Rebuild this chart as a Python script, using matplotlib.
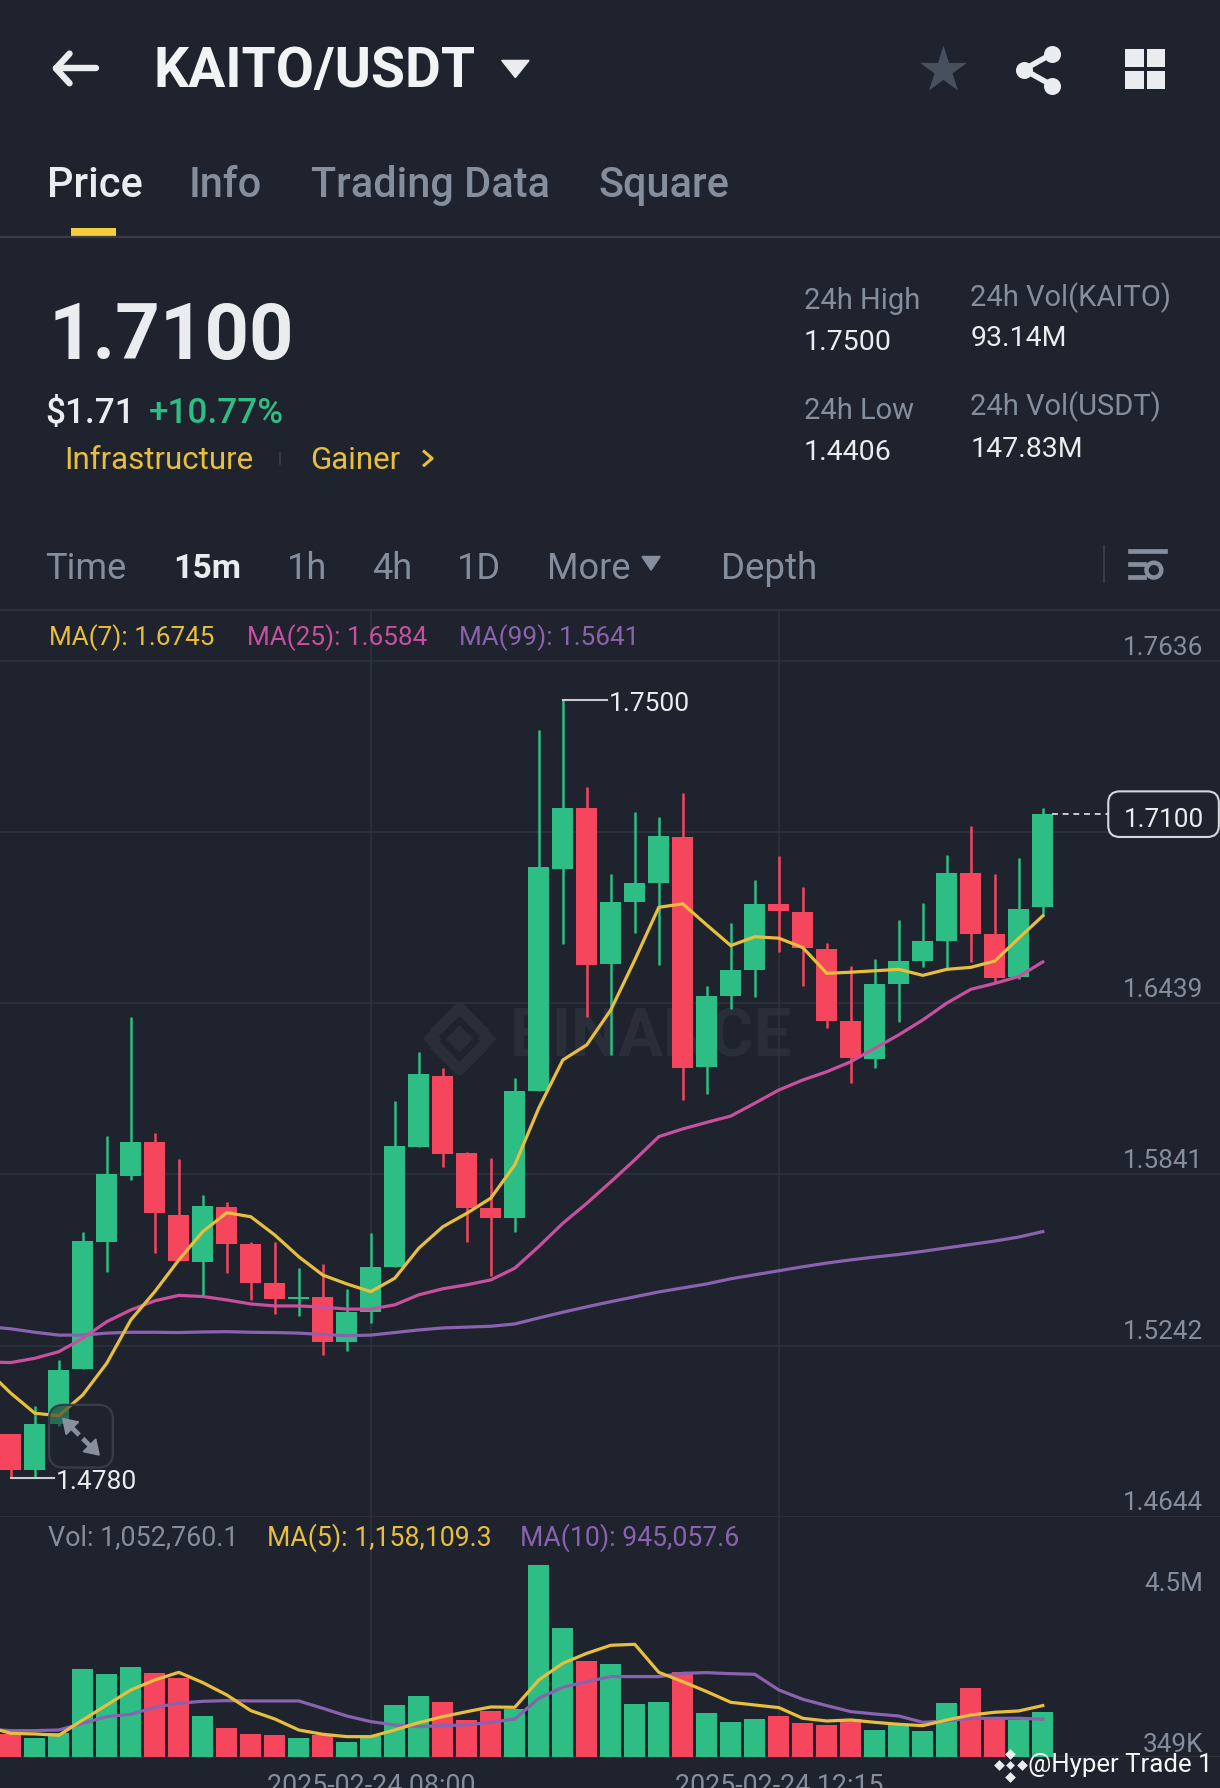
#!/usr/bin/env python3
"""KAITO/USDT 15m candle chart, phone app screenshot style."""

import numpy as np
import matplotlib
matplotlib.use("Agg")
import matplotlib.pyplot as plt
from matplotlib.patches import FancyBboxPatch, Rectangle, Circle

plt.rcParams['font.family'] = ['Roboto', 'DejaVu Sans']

# candles, oldest first
open_vals = [1.4934, 1.4808, 1.4969, 1.5160, 1.5606, 1.5835, 1.5954, 1.5700, 1.5534, 1.5726, 1.5599,
             1.5460, 1.5405, 1.5414, 1.5256, 1.5359, 1.5517, 1.5936, 1.6186, 1.5915, 1.5723, 1.5689,
             1.6132, 1.6910, 1.7121, 1.6576, 1.6793, 1.6861, 1.7021, 1.6218, 1.6466, 1.6556, 1.6787,
             1.6759, 1.6628, 1.6377, 1.6245, 1.6505, 1.6586, 1.6656, 1.6896, 1.6681, 1.6530, 1.6777]
close_vals = [1.4808, 1.4967, 1.5157, 1.5607, 1.5843, 1.5955, 1.5705, 1.5538, 1.5730, 1.5599, 1.5460,
              1.5405, 1.5414, 1.5256, 1.5359, 1.5517, 1.5941, 1.6192, 1.5912, 1.5723, 1.5690, 1.6132,
              1.6916, 1.7122, 1.6573, 1.6793, 1.6859, 1.7024, 1.6212, 1.6466, 1.6556, 1.6788, 1.6763,
              1.6632, 1.6379, 1.6247, 1.6505, 1.6586, 1.6656, 1.6896, 1.6681, 1.6527, 1.6769, 1.7100]
high_vals = [1.4934, 1.5031, 1.5192, 1.5640, 1.5975, 1.6393, 1.5985, 1.5894, 1.5770, 1.5746, 1.5606,
             1.5606, 1.5513, 1.5526, 1.5440, 1.5635, 1.6098, 1.6268, 1.6212, 1.5919, 1.5898, 1.6177,
             1.7395, 1.7500, 1.7195, 1.6892, 1.7109, 1.7090, 1.7174, 1.6498, 1.6719, 1.6871, 1.6955,
             1.6847, 1.6651, 1.6571, 1.6594, 1.6731, 1.6791, 1.6958, 1.7060, 1.6891, 1.6947, 1.7123]
low_vals = [1.4780, 1.4780, 1.4962, 1.5160, 1.5501, 1.5822, 1.5565, 1.5538, 1.5420, 1.5495, 1.5402,
            1.5353, 1.5347, 1.5209, 1.5224, 1.5323, 1.5517, 1.5936, 1.5868, 1.5604, 1.5487, 1.5640,
            1.6132, 1.6647, 1.6393, 1.6259, 1.6684, 1.6573, 1.6101, 1.6121, 1.6420, 1.6461, 1.6620,
            1.6498, 1.6352, 1.6160, 1.6214, 1.6373, 1.6567, 1.6562, 1.6583, 1.6515, 1.6523, 1.6745]

# moving averages start one candle left of the screen edge
ma7_vals = [1.5157, 1.5076, 1.5006, 1.4997, 1.5070, 1.5181, 1.5332, 1.5431, 1.5542, 1.5641, 1.5707, 1.5693,
            1.5629, 1.5553, 1.5489, 1.5458, 1.5431, 1.5478, 1.5583, 1.5658, 1.5705, 1.5758, 1.5874,
            1.6073, 1.6241, 1.6294, 1.6416, 1.6591, 1.6775, 1.6787, 1.6713, 1.6641, 1.6672, 1.6667,
            1.6634, 1.6544, 1.6548, 1.6553, 1.6558, 1.6537, 1.6558, 1.6565, 1.6587, 1.6667, 1.6745]
ma25_vals = [1.5185, 1.5183, 1.5198, 1.5221, 1.5268, 1.5326, 1.5367, 1.5399, 1.5418, 1.5414, 1.5402, 1.5388,
             1.5381, 1.5381, 1.5377, 1.5370, 1.5370, 1.5385, 1.5420, 1.5441, 1.5455, 1.5472, 1.5513,
             1.5589, 1.5670, 1.5740, 1.5815, 1.5892, 1.5973, 1.6000, 1.6023, 1.6045, 1.6090, 1.6136,
             1.6171, 1.6200, 1.6235, 1.6282, 1.6329, 1.6381, 1.6440, 1.6488, 1.6509, 1.6533, 1.6584]
ma99_vals = [1.5309, 1.5301, 1.5289, 1.5279, 1.5279, 1.5286, 1.5289, 1.5289, 1.5288, 1.5290, 1.5291, 1.5289,
             1.5288, 1.5286, 1.5281, 1.5277, 1.5279, 1.5288, 1.5297, 1.5304, 1.5307, 1.5310, 1.5318,
             1.5339, 1.5359, 1.5378, 1.5396, 1.5413, 1.5430, 1.5444, 1.5458, 1.5476, 1.5490, 1.5504,
             1.5518, 1.5531, 1.5542, 1.5552, 1.5561, 1.5572, 1.5584, 1.5596, 1.5608, 1.5622, 1.5641]

# volume, thousands
vol_vals = [709, 651, 724, 1736, 1652, 1767, 1668, 1590, 990, 803, 709, 698, 651, 698, 589, 683, 1162,
            1303, 1209, 933, 1074, 1100, 3357, 2366, 1856, 1803, 1178, 1214, 1689, 1037, 896, 943, 1001,
            891, 855, 948, 771, 855, 766, 1204, 1428, 985, 933, 1053]
vol_ma5_vals = [829, 724, 714, 693, 933, 1167, 1402, 1558, 1678, 1517, 1324, 1079, 948, 776, 709, 672, 672,
                776, 891, 985, 1063, 1136, 1131, 1558, 1819, 1975, 2101, 2116, 1678, 1532, 1376, 1209,
                1167, 1126, 959, 917, 933, 896, 865, 844, 933, 1011, 1053, 1074, 1158]
vol_ma10_vals = [787, 766, 766, 776, 881, 985, 1021, 1131, 1194, 1225, 1235, 1230, 1230, 1230, 1115, 995, 907,
                 855, 829, 844, 855, 896, 948, 1272, 1444, 1532, 1611, 1611, 1611, 1663, 1673, 1657,
                 1647, 1402, 1256, 1157, 1063, 1027, 995, 896, 917, 959, 959, 959, 945]

price_ticks = [1.7636, 1.7038, 1.6439, 1.5841, 1.5242, 1.4644]
price_tick_labels = ['1.7636', '', '1.6439', '1.5841', '1.5242', '1.4644']
date_idx = [15, 32]
date_labels = ['2025-02-24 08:00', '2025-02-24 12:15']

BG = '#1e232e'
GRID = '#2d323d'
GREY = '#848e9c'
WHITE = '#eaecef'
GREEN = '#2ebd85'
RED = '#f6465d'
YELLOW = '#e8bf3c'
MAGENTA = '#c9509f'
PURPLE = '#8a62b0'
FAINT = '#292e39'

WIDTH, HEIGHT = 1220, 1788
DISP_W, DISP_H = 1070, 1568  # ui layer is laid out in these units


def pane(top, bottom):
    """Full width axes between two pixel rows."""
    ax = fig.add_axes([0, 1 - bottom / HEIGHT, 1, (bottom - top) / HEIGHT], zorder=2)
    ax.set_facecolor('none')
    for s in ax.spines.values():
        s.set_visible(False)
    ax.tick_params(left=False, bottom=False, labelleft=False, labelbottom=False)
    # 24 px per candle, first candle centre at x = 10.8 px
    ax.set_xlim(-10.8 / 24, (WIDTH - 10.8) / 24)
    return ax


def layer(z):
    """Full figure axes in screen units, y down."""
    ax = fig.add_axes([0, 0, 1, 1], zorder=z)
    ax.set_xlim(0, DISP_W)
    ax.set_ylim(DISP_H, 0)
    ax.axis('off')
    ax.patch.set_alpha(0)
    return ax


def txt(x, y, s, size=20, color=GREY, weight='normal', ha='left', target=None):
    (target or ui).text(x, y + 4, s, fontsize=size, color=color, fontweight=weight, ha=ha, va='center')


fig = plt.figure(figsize=(WIDTH / 100, HEIGHT / 100), dpi=100, facecolor=BG)

idx = np.arange(len(open_vals))
ma_idx = np.arange(-1, len(open_vals))
opens = np.array(open_vals)
closes = np.array(close_vals)
colors = [GREEN if c >= o else RED for o, c in zip(opens, closes)]

# watermark goes under the candles
under = layer(1)
under.scatter([403, 379, 427], [911, 911, 911], marker='D', s=[190, 90, 90], color=FAINT, linewidths=0)
under.plot([384, 403, 422], [903, 884, 903], color=FAINT, lw=8)
under.plot([384, 403, 422], [919, 938, 919], color=FAINT, lw=8)
txt(447, 907, 'BINANCE', size=48, color=FAINT, weight='bold', target=under)

# price pane
ax = pane(611, 1517)
ax.set_ylim(1.4643, 1.7811)
for t in price_ticks:
    ax.axhline(t, color=GRID, lw=1.2, zorder=1)
for d in date_idx:
    ax.axvline(d, color=GRID, lw=1.2, zorder=1)

ax.vlines(idx, low_vals, high_vals, colors=colors, lw=1.8, zorder=3)
ax.bar(idx, np.abs(closes - opens), bottom=np.minimum(opens, closes), width=0.875, color=colors, zorder=3)
ax.plot(ma_idx, ma99_vals, color=PURPLE, lw=2.3, zorder=4)
ax.plot(ma_idx, ma25_vals, color=MAGENTA, lw=2.3, zorder=4)
ax.plot(ma_idx, ma7_vals, color=YELLOW, lw=2.3, zorder=5)

for t, lab in zip(price_ticks, price_tick_labels):
    if lab:
        ax.annotate(lab, (1, t), xycoords=('axes fraction', 'data'), xytext=(-12, 1), textcoords='offset points',
                    ha='right', va='bottom', fontsize=18.8, color=GREY)

# high / low / last price leaders
hi = int(np.argmax(high_vals))
ax.plot([idx[hi], idx[hi] + 1.85], [high_vals[hi]] * 2, color='#c8ccd2', lw=1.5, zorder=3)
ax.text(idx[hi] + 1.9, high_vals[hi] - 0.0014, '%.4f' % high_vals[hi], color=WHITE, fontsize=19, va='center')
lo = int(np.argmin(low_vals))
ax.plot([idx[lo], idx[lo] + 1.8], [low_vals[lo]] * 2, color='#c8ccd2', lw=1.5, zorder=3)
ax.text(idx[lo] + 1.89, low_vals[lo] - 0.0016, '%.4f' % low_vals[lo], color=WHITE, fontsize=19, va='center')
ax.plot([idx[-1] + 0.4, idx[-1] + 2.7], [close_vals[-1]] * 2, color='#c8ccd2', lw=1.4, ls=(0, (3, 2.5)), zorder=3)

# volume pane
vax = pane(1517, 1757.3)
vax.set_ylim(349, 4107)
vax.axhline(349, color=GRID, lw=2.4, zorder=1)
for d in date_idx:
    vax.axvline(d, color=GRID, lw=1.2, zorder=1)
vax.bar(idx, vol_vals, width=0.875, color=colors, zorder=3)
vax.plot(ma_idx, vol_ma10_vals, color=PURPLE, lw=2.3, zorder=4)
vax.plot(ma_idx, vol_ma5_vals, color=YELLOW, lw=2.3, zorder=5)
for d, lab in zip(date_idx, date_labels):
    vax.annotate(lab, (d, 0), xycoords=('data', 'axes fraction'), xytext=(0, -11), textcoords='offset points',
                 ha='center', va='top', fontsize=19.3, color=GREY, annotation_clip=False)

# ui layer on top
ui = layer(10)

# header
ui.plot([49, 84], [60, 60], color=WHITE, lw=4.6, solid_capstyle='round')
ui.plot([61, 49, 61], [47, 60, 73], color=WHITE, lw=4.6, solid_capstyle='round', solid_joinstyle='round')
txt(135, 59, 'KAITO/USDT', size=39.8, color='#f2f3f5', weight='bold')
ui.fill([440, 464, 452], [53, 53, 68], color=WHITE)
ui.scatter([827], [61], marker='*', s=1270, color='#47505f', linewidths=0)
share_x, share_y = [923, 898, 923], [47, 61, 75]
ui.plot(share_x, share_y, color=WHITE, lw=4)
ui.scatter(share_x, share_y, s=150, color=WHITE, linewidths=0, zorder=3)
for x0, y0 in [(987, 43), (1006, 43), (987, 62), (1006, 62)]:
    ui.add_patch(Rectangle((x0, y0), 16, 16, color=WHITE, lw=0))

# tabs
txt(41, 159, 'Price', size=29.9, color=WHITE, weight='medium')
txt(165, 159, 'Info', size=29.9, weight='medium')
txt(273, 159, 'Trading Data', size=29.9, weight='medium')
txt(525, 159, 'Square', size=29.9, weight='medium')
ui.add_patch(Rectangle((62, 200), 40, 7, color='#f5cd3c', lw=0))
ui.plot([0, DISP_W], [208, 208], color='#363c48', lw=1.6)

# price block
txt(43, 292, '1.7100', size=56, color=WHITE, weight='bold')
txt(40, 359, '$1.71', size=25.3, color=WHITE, weight='medium')
txt(131, 359, '+10.77%', size=25.3, color=GREEN, weight='medium')
txt(56, 400, 'Infrastructure', size=22.5, color=YELLOW)
ui.plot([246, 246], [397, 407], color='#3a404b', lw=1.2)
txt(272, 400, 'Gainer', size=22.5, color=YELLOW)
ui.plot([372, 379, 372], [396, 402, 408], color=YELLOW, lw=2.2)

txt(705, 260, '24h High', size=21)
txt(705, 296, '1.7500', size=20.5, color=WHITE)
txt(705, 356, '24h Low', size=21)
txt(705, 393, '1.4406', size=20.5, color=WHITE)
txt(851, 257, '24h Vol(KAITO)', size=21)
txt(851, 293, '93.14M', size=20.5, color=WHITE)
txt(851, 353, '24h Vol(USDT)', size=21)
txt(851, 390, '147.83M', size=20.5, color=WHITE)

# interval row
txt(40, 495, 'Time', size=26)
txt(152, 495, '15m', size=24.3, color=WHITE, weight='bold')
txt(252, 495, '1h', size=26)
txt(326, 495, '4h', size=26)
txt(401, 495, '1D', size=26)
txt(480, 495, 'More', size=26)
ui.fill([563, 579, 571], [488, 488, 500], color=GREY)
txt(632, 495, 'Depth', size=26.5)
ui.plot([968, 968], [479, 510], color='#363c48', lw=1.4)
ui.plot([991, 1022], [483, 483], color=GREY, lw=3.4)
ui.plot([991, 1003], [495, 495], color=GREY, lw=3.4)
ui.plot([991, 1003], [506, 506], color=GREY, lw=3.4)
ui.add_patch(Circle((1012, 500), 6.5, fill=False, ec=GREY, lw=3.2))
ui.plot([0, DISP_W], [535, 535], color=GRID, lw=1.6)

# legends
txt(43, 555, 'MA(7): 1.6745', size=18.8, color=YELLOW)
txt(217, 555, 'MA(25): 1.6584', size=18.8, color=MAGENTA)
txt(403, 555, 'MA(99): 1.5641', size=18.8, color=PURPLE)
txt(42, 1344, 'Vol: 1,052,760.1', size=19.4)
txt(234, 1344, 'MA(5): 1,158,109.3', size=19.2, color=YELLOW)
txt(456, 1344, 'MA(10): 945,057.6', size=19.2, color=PURPLE)

# last price tag
ui.add_patch(FancyBboxPatch((978, 700), 85, 28, boxstyle='round,pad=6,rounding_size=10', fc=BG, ec='#d5d8dc', lw=1.5))
txt(1020.5, 715, '1.7100', size=18.8, color=WHITE, ha='center')

# volume axis labels
txt(1055, 1385, '4.5M', size=18.8, ha='right')
txt(1055, 1526, '349K', size=18.8, ha='right')

# expand button
ui.add_patch(FancyBboxPatch((51, 1240), 40, 39, boxstyle='round,pad=8,rounding_size=13', fc='#1e232e88', ec='#383d48', lw=1.6))
ui.fill([55, 69, 58], [1244, 1247, 1258], color='#8a909b')
ui.plot([60, 68], [1249, 1257], color='#8a909b', lw=3.4)
ui.fill([87, 73, 84], [1276, 1273, 1262], color='#8a909b')
ui.plot([82, 74], [1271, 1263], color='#8a909b', lw=3.4)

# screenshot credit
ui.scatter([886, 876, 896, 886], [1538, 1548, 1548, 1558], marker='D', s=30, color=WHITE, linewidths=0)
ui.scatter([886], [1548], marker='D', s=20, color=WHITE, linewidths=0)
txt(902, 1544, '@Hyper Trade 1', size=18.6, color='#f5f5f5')

fig.savefig('out.png', dpi=100, facecolor=BG)
